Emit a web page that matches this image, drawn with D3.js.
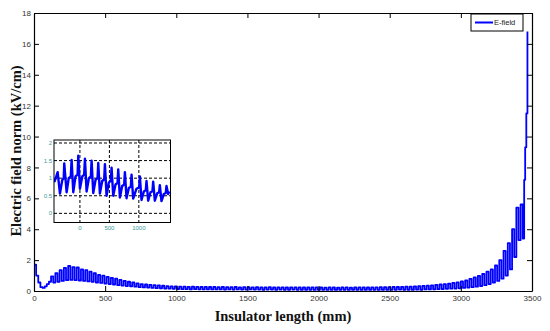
<!DOCTYPE html>
<html>
<head>
<meta charset="utf-8">
<script src="https://cdn.jsdelivr.net/npm/d3@7"></script>
<style>
  body { margin: 0; background: #fff; }
  svg { display: block; }
  .tick text { font-family: "Liberation Sans", Arial, sans-serif; font-size: 8px; fill: #333; }
  .axis-title { font-family: "Liberation Serif", serif; font-weight: bold; font-size: 14.5px; fill: #111; }
</style>
</head>
<body>
<svg id="chart" width="550" height="331"></svg>
<script>
'use strict'

// main curve: a peak every 30 mm and a trough 15 mm after it
const sampleStepMm = 30
const peakKv = [
  1.70, 0.55, 0.20, 0.45, 0.95, 1.15, 1.35, 1.50, 1.62, 1.55, 1.52, 1.40, 1.35, 1.25, 1.15, 1.05,
  1.00, 0.92, 0.85, 0.80, 0.72, 0.65, 0.60, 0.55, 0.50, 0.45, 0.42, 0.40, 0.38, 0.36, 0.34, 0.32, 0.30,
  0.29, 0.28, 0.28, 0.27, 0.28, 0.27, 0.26, 0.27, 0.26, 0.26,
  0.25, 0.26, 0.25, 0.25, 0.26, 0.24, 0.25, 0.25, 0.24, 0.25,
  0.24, 0.24, 0.25, 0.23, 0.24, 0.24, 0.23, 0.24, 0.23, 0.24,
  0.23, 0.23, 0.24, 0.23, 0.23, 0.22, 0.23, 0.23, 0.22, 0.23,
  0.23, 0.22, 0.23, 0.23, 0.24, 0.23, 0.24, 0.24, 0.25, 0.25,
  0.25, 0.26, 0.26, 0.27,
  0.28, 0.28, 0.30, 0.32, 0.33, 0.35, 0.37, 0.40, 0.42, 0.45, 0.48, 0.52, 0.56, 0.62,
  0.68, 0.78, 0.88, 0.98, 1.10, 1.25, 1.40, 1.65, 2.00, 2.60, 3.10, 4.00, 5.40, 5.60
]
const troughKv = [
  1.00, 0.25, 0.30, 0.60, 0.55, 0.60, 0.65, 0.70, 0.72, 0.70, 0.68, 0.65, 0.62, 0.60, 0.55, 0.52,
  0.48, 0.45, 0.42, 0.38, 0.35, 0.32, 0.30, 0.28, 0.25, 0.23, 0.22, 0.20, 0.18, 0.17, 0.16, 0.15, 0.14,
  0.13, 0.12, 0.12, 0.11, 0.12, 0.11, 0.10, 0.11, 0.10, 0.10,
  0.10, 0.09, 0.10, 0.09, 0.10, 0.09, 0.09, 0.10, 0.09, 0.09,
  0.08, 0.09, 0.09, 0.08, 0.09, 0.08, 0.08, 0.09, 0.08, 0.08,
  0.08, 0.08, 0.07, 0.08, 0.08, 0.07, 0.08, 0.07, 0.08, 0.08,
  0.07, 0.08, 0.08, 0.07, 0.08, 0.08, 0.08, 0.07, 0.08, 0.08,
  0.08, 0.08, 0.09, 0.08,
  0.08, 0.08, 0.09, 0.08, 0.10, 0.10, 0.11, 0.12, 0.13, 0.14, 0.15, 0.16, 0.17, 0.20,
  0.22, 0.25, 0.28, 0.32, 0.38, 0.45, 0.55, 0.65, 0.80, 1.00, 1.40, 2.20, 3.30, 3.40
]
const tailMm = [3445, 3452, 3460, 3468]
const tailKv = [7.2, 9.3, 11.5, 16.8]

// inset curve
const insetMm = [
  -435, -410, -378, -339, -300, -275, -266, -226, -190, -155, -141, -113, -75, -40, -28, 0,
  40, 72, 85, 113, 152, 186, 198, 226, 265, 299, 311, 339, 378, 412, 424, 452,
  491, 525, 537, 565, 604, 638, 650, 678, 717, 751, 763, 791, 830, 864, 876, 904,
  960, 1005, 1017, 1045, 1085, 1118, 1130, 1158, 1198, 1231, 1243, 1271, 1311, 1344, 1356, 1384,
  1424, 1457, 1469, 1497, 1520
]
const insetKv = [
  0.89, 1.00, 1.17, 0.56, 0.95, 1.00, 1.42, 0.60, 1.00, 1.05, 1.52, 0.60, 1.05, 1.10, 1.64, 0.70,
  1.05, 1.10, 1.55, 0.62, 1.00, 1.05, 1.50, 0.58, 0.95, 1.00, 1.43, 0.56, 0.92, 0.97, 1.40, 0.50,
  0.88, 0.92, 1.30, 0.50, 0.82, 0.86, 1.25, 0.45, 0.78, 0.82, 1.17, 0.43, 0.72, 0.76, 1.10, 0.42,
  0.70, 0.74, 1.05, 0.38, 0.62, 0.66, 0.92, 0.36, 0.60, 0.63, 0.90, 0.36, 0.57, 0.60, 0.80, 0.35,
  0.55, 0.58, 0.78, 0.55, 0.62
]

const xTicks = [0, 500, 1000, 1500, 2000, 2500, 3000, 3500]
const yTicks = [0, 2, 4, 6, 8, 10, 12, 14, 16, 18]
const insetXTicks = [0, 500, 1000]
const insetYTicks = [0, 0.5, 1, 1.5, 2]

const svg = d3.select('#chart')
const plot = { left: 34, right: 532, top: 13, bottom: 291 }

const x = d3.scaleLinear().domain([0, 3500]).range([plot.left, plot.right])
const y = d3.scaleLinear().domain([0, 18]).range([plot.bottom, plot.top])

// zig-zag through peaks and troughs
const efield = []
peakKv.forEach((p, i) => {
  efield.push([i * sampleStepMm, p])
  efield.push([i * sampleStepMm + sampleStepMm / 2, troughKv[i]])
})
tailMm.forEach((m, i) => efield.push([m, tailKv[i]]))

svg.append('clipPath').attr('id', 'plotClip')
  .append('rect')
  .attr('x', plot.left).attr('y', plot.top)
  .attr('width', plot.right - plot.left).attr('height', plot.bottom - plot.top)

svg.append('path')
  .datum(efield)
  .attr('clip-path', 'url(#plotClip)')
  .attr('fill', 'none')
  .attr('stroke', '#0000ff')
  .attr('stroke-width', 1.8)
  .attr('stroke-linejoin', 'round')
  .attr('d', d3.line().curve(d3.curveStepAfter).x(d => x(d[0])).y(d => y(d[1])))

// axes, matlab style ticks pointing in
const styleAxis = g => {
  g.select('.domain').attr('stroke', '#000').attr('stroke-width', 1.2)
  g.selectAll('.tick line').attr('stroke', '#000')
}
svg.append('g').attr('transform', `translate(0,${plot.bottom})`)
  .call(d3.axisBottom(x).tickValues(xTicks).tickFormat(d3.format('d'))
    .tickSizeInner(-5).tickSizeOuter(0).tickPadding(4))
  .call(styleAxis)
svg.append('g').attr('transform', `translate(0,${plot.top})`)
  .call(d3.axisTop(x).tickValues(xTicks).tickSizeInner(-5).tickSizeOuter(0).tickFormat(''))
  .call(styleAxis)
svg.append('g').attr('transform', `translate(${plot.left},0)`)
  .call(d3.axisLeft(y).tickValues(yTicks).tickSizeInner(-5).tickSizeOuter(0).tickPadding(3))
  .call(styleAxis)
svg.append('g').attr('transform', `translate(${plot.right},0)`)
  .call(d3.axisRight(y).tickValues(yTicks).tickSizeInner(-5).tickSizeOuter(0).tickFormat(''))
  .call(styleAxis)
svg.selectAll('g').attr('font-family', null).attr('font-size', null)

svg.append('text').attr('class', 'axis-title')
  .attr('x', 283).attr('y', 321)
  .attr('text-anchor', 'middle')
  .text('Insulator length (mm)')
svg.append('text').attr('class', 'axis-title')
  .attr('transform', 'translate(21,151) rotate(-90)')
  .attr('text-anchor', 'middle')
  .text('Electric field norm (kV/cm)')

// legend
const legend = svg.append('g')
legend.append('rect')
  .attr('x', 471).attr('y', 14).attr('width', 52).attr('height', 17)
  .attr('fill', '#fff').attr('stroke', '#000').attr('stroke-width', 1)
legend.append('line')
  .attr('x1', 475).attr('x2', 493).attr('y1', 22.5).attr('y2', 22.5)
  .attr('stroke', '#0000ff').attr('stroke-width', 2)
legend.append('text')
  .attr('x', 494).attr('y', 25)
  .attr('font-family', 'Liberation Sans, Arial, sans-serif').attr('font-size', 7.5)
  .attr('fill', '#222')
  .text('E-field')

// inset
const ib = { left: 54, right: 170.5, top: 140, bottom: 222.5 }
const ix = d3.scaleLinear().domain([-440, 1537]).range([ib.left, ib.right])
const iy = d3.scaleLinear().domain([-0.26, 2.085]).range([ib.bottom, ib.top])
const inset = svg.append('g')

inset.append('rect')
  .attr('x', ib.left).attr('y', ib.top)
  .attr('width', ib.right - ib.left).attr('height', ib.bottom - ib.top)
  .attr('fill', '#fff')

inset.selectAll('.hgrid').data(insetYTicks).enter().append('line')
  .attr('x1', ib.left).attr('x2', ib.right)
  .attr('y1', d => iy(d)).attr('y2', d => iy(d))
  .attr('stroke', '#000').attr('stroke-dasharray', '3,2')
inset.selectAll('.vgrid').data(insetXTicks).enter().append('line')
  .attr('y1', ib.top).attr('y2', ib.bottom)
  .attr('x1', d => ix(d)).attr('x2', d => ix(d))
  .attr('stroke', '#000').attr('stroke-dasharray', '3,2')

svg.append('clipPath').attr('id', 'insetClip')
  .append('rect')
  .attr('x', ib.left).attr('y', ib.top)
  .attr('width', ib.right - ib.left).attr('height', ib.bottom - ib.top)

inset.append('path')
  .datum(insetMm.map((m, i) => [m, insetKv[i]]))
  .attr('clip-path', 'url(#insetClip)')
  .attr('fill', 'none')
  .attr('stroke', '#0000ff')
  .attr('stroke-width', 2.4)
  .attr('stroke-linejoin', 'round')
  .attr('d', d3.line().x(d => ix(d[0])).y(d => iy(d[1])))

inset.append('rect')
  .attr('x', ib.left).attr('y', ib.top)
  .attr('width', ib.right - ib.left).attr('height', ib.bottom - ib.top)
  .attr('fill', 'none').attr('stroke', '#000').attr('stroke-width', 1)

inset.selectAll('.ylab').data(insetYTicks).enter().append('text')
  .attr('x', ib.left - 2).attr('y', d => iy(d) + 2)
  .attr('text-anchor', 'end')
  .attr('font-family', 'Liberation Sans, Arial, sans-serif').attr('font-size', 6)
  .attr('fill', '#3a9a9a')
  .text(d => d)
inset.selectAll('.xlab').data(insetXTicks).enter().append('text')
  .attr('x', d => ix(d)).attr('y', ib.bottom + 7)
  .attr('text-anchor', 'middle')
  .attr('font-family', 'Liberation Sans, Arial, sans-serif').attr('font-size', 6)
  .attr('fill', '#3a9a9a')
  .text(d => d)
</script>
</body>
</html>
